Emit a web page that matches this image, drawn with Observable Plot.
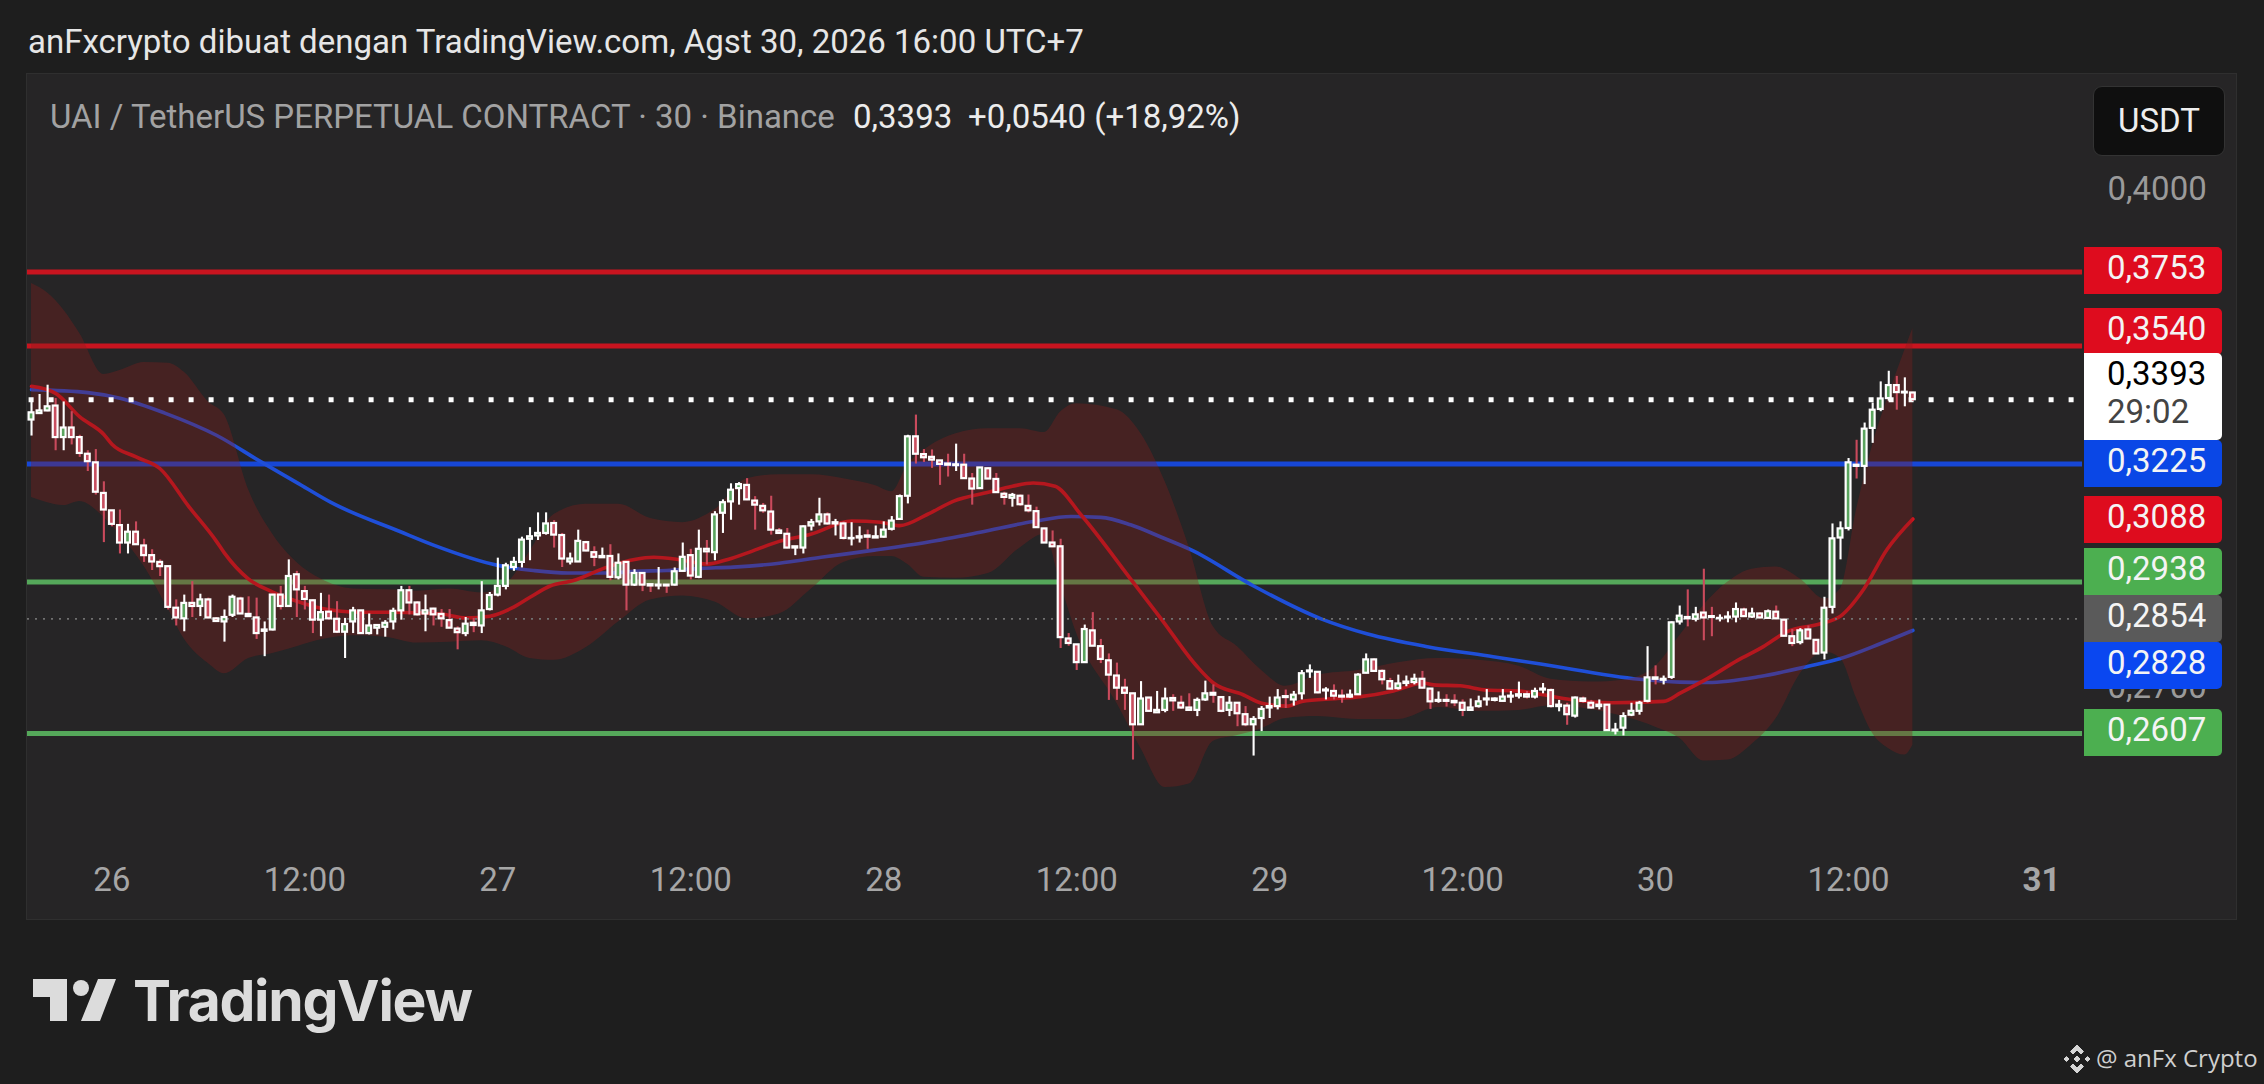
<!DOCTYPE html>
<html><head><meta charset="utf-8">
<script src="https://cdn.jsdelivr.net/npm/d3@7"></script>
<script src="https://cdn.jsdelivr.net/npm/@observablehq/plot@0.6"></script>
<style>
html,body{margin:0;padding:0;background:#1e1e1e;}
#page{position:relative;width:2264px;height:1084px;overflow:hidden;background:#1e1e1e;font-family:Roboto,sans-serif;}
.abs{position:absolute;white-space:nowrap;}
#panel{left:27px;top:74px;width:2209px;height:845px;background:#262526;outline:1px solid #2f2f2f;}
#chart{left:27px;top:74px;}
.badge{position:absolute;left:2084px;width:138px;font-size:33px;padding-left:23px;box-sizing:border-box;border-radius:0 5px 5px 0;color:#f4f4f4;}
</style></head><body>
<div id="page">
<div class="abs" style="left:28px;top:23px;font-size:33px;line-height:38px;color:#e6e6e6">anFxcrypto dibuat dengan TradingView.com, Agst 30, 2026 16:00 UTC+7</div>
<div class="abs" id="panel"></div>
<div class="abs" id="chart"></div>
<div class="abs" style="left:50px;top:98px;font-size:33px;line-height:38px;color:#a2a2a2">UAI / TetherUS PERPETUAL CONTRACT · 30 · Binance</div>
<div class="abs" style="left:853px;top:98px;font-size:33px;line-height:38px;color:#ececec">0,3393</div>
<div class="abs" style="left:968px;top:98px;font-size:33px;line-height:38px;color:#ececec">+0,0540 (+18,92%)</div>
<div class="abs" style="left:2093px;top:86px;width:130px;height:68px;line-height:68px;text-align:center;font-size:33px;color:#eee;background:#0f0f0f;border:1px solid #333;border-radius:9px">USDT</div>
<div id="badges"></div>
<svg class="abs" style="left:0;top:960px" width="140" height="80" viewBox="0 960 140 80">
<path fill="#dcdcdc" d="M33 979H67V1021H50V997H33Z M98 979H116L100 1021H81Z"/><circle fill="#dcdcdc" cx="81" cy="988" r="8"/>
</svg>
<div class="abs" style="left:133px;top:966px;font-family:Inter,Roboto,sans-serif;font-weight:700;font-size:57px;line-height:70px;letter-spacing:-1.3px;color:#dcdcdc">TradingView</div>
<svg class="abs" style="left:2062px;top:1044px" width="30" height="30" viewBox="0 0 30 30">
<path fill="#d6d6d6" stroke="#d6d6d6" stroke-width="1" d="M15 1l6.500 6.500-2.500 2.500L15 6 11 10 8.500 7.500z M15 29l-6.500-6.500 2.500-2.500L15 24l4-4 2.500 2.500z M4.500 12.500L7 15l-2.500 2.500L2 15z M25.500 12.500L28 15l-2.500 2.500L23 15z M15 12l3 3-3 3-3-3z"/>
</svg>
<div class="abs" style="left:2096px;top:1040px;font-family:'Open Sans',sans-serif;font-size:24px;line-height:36px;color:#cfcfcf">@ anFx Crypto</div>
</div>
<script>
const opens=[.3339,.3356,.3363,.3376,.3293,.3318,.3293,.3250,.3228,.3151,
.3108,.3072,.3030,.3056,.3023,.3000,.2984,.2974,.2878,.2854,
.2889,.2882,.2897,.2854,.2847,.2862,.2899,.2864,.2856,.2826,
.2829,.2908,.2882,.2955,.2916,.2895,.2851,.2869,.2853,.2824,
.2847,.2872,.2821,.2833,.2835,.2847,.2872,.2918,.2890,.2865,
.2876,.2864,.2850,.2831,.2821,.2844,.2838,.2875,.2908,.2928,
.2972,.2984,.3039,.3047,.3053,.3077,.3048,.2985,.2985,.3031,
.3007,.2995,.2998,.2948,.2984,.2931,.2958,.2932,.2929,.2931,
.2931,.2963,.3000,.2949,.3015,.3007,.3102,.3130,.3163,.3171,
.3132,.3119,.3105,.3059,.3051,.3018,.3018,.3071,.3081,.3098,
.3076,.3076,.3040,.3042,.3047,.3042,.3044,.3063,.3087,.3144,
.3295,.3249,.3242,.3233,.3225,.3221,.3222,.3187,.3163,.3213,
.3186,.3149,.3139,.3144,.3119,.3106,.3064,.3030,.3021,.2809,
.2796,.2757,.2827,.2792,.2761,.2728,.2702,.2690,.2625,.2681,
.2650,.2655,.2680,.2670,.2660,.2655,.2677,.2691,.2682,.2655,
.2670,.2646,.2625,.2638,.2660,.2663,.2684,.2677,.2690,.2737,
.2736,.2696,.2695,.2685,.2683,.2688,.2734,.2763,.2738,.2716,
.2701,.2712,.2714,.2721,.2700,.2674,.2676,.2674,.2670,.2655,
.2663,.2677,.2676,.2674,.2683,.2685,.2688,.2683,.2698,.2697,
.2663,.2664,.2643,.2679,.2670,.2663,.2666,.2612,.2618,.2645,
.2653,.2674,.2724,.2719,.2725,.2847,.2857,.2853,.2867,.2859,
.2854,.2856,.2858,.2874,.2858,.2865,.2855,.2869,.2851,.2814,
.2801,.2829,.2806,.2778,.2880,.3042,.3065,.3222,.3219,.3317,
.3367,.3396,.3431,.3411,.3411];
const closes=[.3358,.3363,.3374,.3293,.3318,.3293,.3252,.3231,.3154,.3110,
.3075,.3030,.3056,.3026,.3000,.2985,.2974,.2880,.2856,.2889,
.2882,.2897,.2856,.2848,.2857,.2903,.2865,.2859,.2821,.2829,
.2908,.2882,.2951,.2920,.2898,.2851,.2868,.2854,.2824,.2841,
.2872,.2821,.2838,.2839,.2844,.2871,.2918,.2890,.2863,.2872,
.2863,.2854,.2833,.2823,.2842,.2839,.2872,.2907,.2928,.2976,
.2984,.3037,.3045,.3053,.3076,.3049,.2992,.2992,.3034,.3011,
.2996,.2998,.2949,.2982,.2931,.2958,.2931,.2929,.2931,.2929,
.2962,.2996,.2952,.3015,.3009,.3098,.3128,.3159,.3173,.3135,
.3122,.3108,.3061,.3053,.3018,.3021,.3069,.3079,.3098,.3076,
.3079,.3041,.3041,.3045,.3044,.3045,.3061,.3083,.3143,.3295,
.3250,.3241,.3235,.3224,.3222,.3223,.3188,.3162,.3215,.3187,
.3153,.3141,.3146,.3123,.3108,.3067,.3030,.3021,.2812,.2799,
.2757,.2830,.2793,.2764,.2730,.2702,.2691,.2625,.2679,.2653,
.2655,.2679,.2675,.2660,.2655,.2676,.2690,.2687,.2653,.2670,
.2648,.2625,.2636,.2657,.2663,.2681,.2682,.2687,.2733,.2739,
.2692,.2698,.2685,.2683,.2687,.2730,.2763,.2738,.2720,.2700,
.2711,.2715,.2721,.2702,.2673,.2676,.2674,.2671,.2655,.2660,
.2673,.2679,.2679,.2683,.2685,.2688,.2683,.2695,.2700,.2663,
.2666,.2646,.2681,.2674,.2660,.2666,.2613,.2614,.2642,.2653,
.2670,.2724,.2721,.2721,.2845,.2860,.2854,.2863,.2856,.2857,
.2855,.2858,.2875,.2859,.2865,.2856,.2870,.2854,.2815,.2799,
.2827,.2809,.2776,.2878,.3040,.3064,.3228,.3219,.3315,.3365,
.3395,.3431,.3412,.3413,.3393];
const highs=[.3396,.3407,.3432,.3396,.3387,.3361,.3299,.3259,.3262,.3180,
.3108,.3110,.3075,.3081,.3039,.3014,.2990,.2974,.2897,.2908,
.2939,.2910,.2901,.2857,.2874,.2908,.2903,.2904,.2901,.2847,
.2908,.2928,.2990,.2963,.2928,.2897,.2912,.2908,.2893,.2855,
.2880,.2872,.2865,.2840,.2850,.2878,.2928,.2928,.2893,.2908,
.2878,.2875,.2875,.2836,.2857,.2855,.2939,.2914,.2994,.2982,
.2996,.3044,.3067,.3103,.3103,.3084,.3053,.3006,.3061,.3034,
.3021,.3018,.3026,.3004,.2984,.2967,.2959,.2932,.2972,.2931,
.2971,.3030,.3015,.3061,.3036,.3106,.3135,.3175,.3178,.3188,
.3143,.3126,.3144,.3065,.3065,.3021,.3071,.3087,.3139,.3103,
.3087,.3081,.3079,.3069,.3061,.3071,.3081,.3094,.3147,.3299,
.3352,.3262,.3261,.3233,.3250,.3276,.3250,.3201,.3216,.3215,
.3201,.3154,.3151,.3147,.3147,.3117,.3064,.3059,.3039,.2821,
.2796,.2840,.2868,.2808,.2776,.2756,.2721,.2691,.2716,.2682,
.2695,.2702,.2688,.2685,.2690,.2681,.2717,.2709,.2684,.2684,
.2671,.2663,.2642,.2663,.2683,.2699,.2698,.2695,.2740,.2752,
.2737,.2703,.2709,.2698,.2698,.2733,.2776,.2765,.2741,.2723,
.2730,.2728,.2732,.2738,.2701,.2694,.2688,.2688,.2677,.2679,
.2685,.2699,.2681,.2699,.2695,.2715,.2695,.2702,.2712,.2700,
.2676,.2670,.2683,.2683,.2676,.2677,.2667,.2628,.2650,.2670,
.2674,.2792,.2750,.2728,.2847,.2883,.2920,.2880,.2968,.2880,
.2863,.2870,.2890,.2878,.2878,.2868,.2874,.2883,.2853,.2830,
.2832,.2838,.2808,.2903,.3076,.3081,.3239,.3286,.3331,.3384,
.3441,.3470,.3456,.3452,.3413];
const lows=[.3297,.3356,.3361,.3259,.3259,.3274,.3242,.3206,.3147,.3031,
.3069,.3004,.3004,.3026,.2984,.2965,.2951,.2874,.2838,.2825,
.2857,.2859,.2854,.2847,.2802,.2857,.2864,.2857,.2808,.2770,
.2827,.2874,.2880,.2857,.2874,.2821,.2814,.2851,.2821,.2766,
.2821,.2820,.2818,.2818,.2813,.2829,.2851,.2863,.2860,.2825,
.2838,.2835,.2832,.2785,.2814,.2823,.2821,.2872,.2904,.2920,
.2963,.2971,.2988,.3036,.3049,.3018,.2972,.2978,.2984,.3009,
.2974,.2994,.2941,.2943,.2872,.2928,.2916,.2914,.2920,.2912,
.2929,.2962,.2943,.2946,.2978,.2988,.3053,.3085,.3122,.3133,
.3061,.3102,.3049,.3051,.3016,.3000,.3004,.3059,.3071,.3073,
.3047,.3037,.3023,.3030,.3015,.3042,.3042,.3059,.3085,.3125,
.3225,.3229,.3214,.3171,.3192,.3206,.3186,.3122,.3161,.3186,
.3151,.3122,.3117,.3119,.3103,.3065,.3029,.3019,.2788,.2793,
.2740,.2756,.2792,.2755,.2676,.2676,.2655,.2553,.2624,.2651,
.2650,.2650,.2653,.2657,.2654,.2642,.2674,.2670,.2650,.2642,
.2621,.2621,.2561,.2611,.2638,.2656,.2659,.2664,.2677,.2723,
.2690,.2677,.2677,.2670,.2681,.2687,.2733,.2736,.2709,.2698,
.2698,.2705,.2709,.2700,.2657,.2670,.2662,.2663,.2642,.2653,
.2660,.2664,.2673,.2673,.2670,.2679,.2679,.2679,.2690,.2660,
.2652,.2624,.2639,.2670,.2657,.2656,.2612,.2604,.2602,.2642,
.2645,.2671,.2709,.2709,.2721,.2840,.2836,.2847,.2805,.2814,
.2847,.2845,.2845,.2857,.2855,.2854,.2853,.2852,.2814,.2792,
.2796,.2808,.2775,.2763,.2865,.2990,.3059,.3187,.3173,.3278,
.3361,.3389,.3365,.3374,.3389];

const redMaBars=[1,4,7,10,11,14,17,20.5,24,25,28,31,34,37,42,46,52,55,58,60.7,63,65.5,68.3,72.6,76,78.4,81.4,85,87.6,90.8,94,97.9,103,106.6,109,112.4,115.7,120,123,125.6,128.3,131.5,138,141.5,146,148,151.7,154,157.2,159,163.4,166.3,170.4,174.1,175.4,178.7,182,186,189,192.4,197.4,204,206.1,209.5,213.2,216.4,219.3,223.5,226,228.9,231.8,235];
const redMaValues=[.3429,.3410,.3347,.3301,.3276,.3243,.3213,.3120,.3034,.3006,.2945,.2915,.2894,.2878,.2869,.2869,.2865,.2856,.2860,.2878,.2903,.2929,.2941,.2973,.2991,.2996,.2991,.2980,.2991,.3012,.3034,.3051,.3083,.3080,.3072,.3099,.3132,.3154,.3169,.3177,.3169,.3099,.2938,.2854,.2748,.2713,.2688,.2670,.2664,.2674,.2680,.2684,.2696,.2713,.2709,.2707,.2698,.2696,.2688,.2678,.2671,.2674,.2692,.2723,.2762,.2792,.2825,.2843,.2860,.2922,.3015,.3088];
const blueMaBars=[1,8,12,17.5,24,29.5,34,38.3,46.9,51,59,63.4,67.7,72.6,76,80,84.3,88.3,94,99.2,105.8,112.4,119,125.6,130.3,134,137.7,141.4,145.3,153,161.4,167.2,174.6,182.8,188.7,201,206,209.5,216,222,226,231,235];
const blueMaValues=[.3420,.3412,.3397,.3358,.3299,.3231,.3178,.3128,.3057,.3025,.2977,.2965,.2959,.2959,.2963,.2965,.2970,.2973,.2982,.2996,.3013,.3032,.3056,.3082,.3094,.3092,.3074,.3045,.3013,.2929,.2854,.2820,.2792,.2770,.2754,.2721,.2715,.2714,.2727,.2749,.2766,.2799,.2828];

const ribbonBars=[1,3,5,7,10,12,15,18,20,23,25,28,31,34,37,41,45,49,53,57,60,63,66,70,74,78,82,86,90,94,98,102,106,108,110,112,116,120,124,127,129,131,136,139,142,145,148,151,154,157,161,166,171,176,181,186,190,195,199,203,206,209,212,215,218,221,224,226,228,230,232,234,235];
const ribbonUpper=[.3719,.3691,.3642,.3575,.3461,.3472,.3494,.3492,.3467,.3387,.3352,.3160,.3051,.2984,.2945,.2922,.2920,.2917,.2922,.2913,.2933,.3010,.3099,.3124,.3124,.3089,.3079,.3111,.3188,.3198,.3198,.3188,.3170,.3155,.3223,.3260,.3303,.3316,.3316,.3306,.3360,.3382,.3366,.3303,.3180,.3019,.2836,.2792,.2740,.2706,.2730,.2740,.2757,.2766,.2762,.2749,.2721,.2715,.2719,.2749,.2816,.2885,.2938,.2968,.2973,.2945,.2899,.2922,.3111,.3274,.3405,.3528,.3589];
const ribbonLower=[.3141,.3128,.3121,.3131,.3092,.3049,.2975,.2876,.2809,.2755,.2733,.2766,.2777,.2792,.2807,.2816,.2813,.2800,.2802,.2805,.2792,.2766,.2762,.2790,.2847,.2897,.2906,.2892,.2854,.2865,.2922,.2984,.2998,.2998,.2979,.2949,.2947,.2958,.3019,.3051,.2933,.2821,.2670,.2576,.2498,.2505,.2591,.2603,.2617,.2638,.2642,.2636,.2636,.2661,.2653,.2655,.2665,.2657,.2642,.2620,.2597,.2551,.2553,.2585,.2638,.2733,.2781,.2766,.2680,.2607,.2576,.2563,.2583];

const levelPrices=[.3753,.3540,.3225,.2938,.2607];
const levelColors=["#c8141f","#c8141f","#1747d6","#55a85a","#55a85a"];
const lastPrice=.3393, prevClose=.2854;
const tickBars=[11,35,59,83,107,131,155,179,203,227];
const tickLabels=["26","12:00","27","12:00","28","12:00","29","12:00","30","12:00"];
const lastTickBar=251, lastTickLabel="31";
const priceTicks=[.4,.27];

const badgeLabels=["0,3753","0,3540","0,3225","0,3088","0,2938","0,2854","0,2828","0,2607"];
const badgeFills=["#de0c1e","#de0c1e","#0a47e6","#de0c1e","#4caf50","#5a5a5a","#0a47f0","#4caf50"];
const badgeTops=[247,308,440,496,548,595,642,709];

const bars=opens.map((o,k)=>({bar:k+1,open:o,close:closes[k],high:highs[k],low:lows[k],up:closes[k]>=o}));
const red=redMaBars.map((b,k)=>({bar:b,v:redMaValues[k]}));
const blue=blueMaBars.map((b,k)=>({bar:b,v:blueMaValues[k]}));
const ribbon=ribbonBars.map((b,k)=>({bar:b,hi:ribbonUpper[k],lo:ribbonLower[k]}));
const levels=levelPrices.map((v,k)=>({v,c:levelColors[k]}));
const barHalf=.30, lineEnd=256.1;

const chart=Plot.plot({
  width:2209,height:845,margin:0,
  style:{background:"transparent",fontFamily:"Roboto",fontSize:"33px",overflow:"visible"},
  x:{domain:[.5,275.25],range:[0,2209],axis:null},
  y:{type:"log",domain:[.2251,.4386],range:[845,0],axis:null},
  marks:[
    Plot.axisY({anchor:"right",ticks:priceTicks,tickSize:0,tickPadding:0,dx:-129,dy:-2,color:"#9a9a9a",label:null,tickFormat:d=>d3.format(".4f")(d).replace(".",",")}),
    Plot.axisX({anchor:"bottom",ticks:tickBars,tickSize:0,tickPadding:0,dy:-52,color:"#a6a6a6",label:null,tickFormat:d=>tickLabels[tickBars.indexOf(d)]}),
    Plot.axisX({anchor:"bottom",ticks:[lastTickBar],tickSize:0,tickPadding:0,dy:-52,color:"#a6a6a6",fontWeight:"bold",label:null,tickFormat:()=>lastTickLabel}),
    Plot.ruleY(levels,{y:"v",x1:.5,x2:lineEnd,stroke:"c",strokeWidth:5}),
    Plot.line(blue,{x:"bar",y:"v",stroke:"#1f4fd8",strokeWidth:3.6,curve:"monotone-x"}),
    Plot.line(red,{x:"bar",y:"v",stroke:"#d0141f",strokeWidth:3.6,curve:"monotone-x"}),
    Plot.area(ribbon,{x1:"bar",y1:"lo",y2:"hi",fill:"#851c1c",fillOpacity:.35,curve:"monotone-x"}),
    Plot.ruleY([prevClose],{x1:.5,x2:lineEnd,stroke:"#707070",strokeWidth:1.6,strokeDasharray:"2,6"}),
    Plot.ruleY([lastPrice],{x1:.7,x2:lineEnd,stroke:"#ffffff",strokeWidth:5,strokeDasharray:"5,15"}),
    Plot.ruleX(bars,{x:"bar",y1:"low",y2:"high",stroke:d=>d.up?"#ffffff":"#c94a5c",strokeWidth:2.1}),
    Plot.rect(bars,{x1:d=>d.bar-barHalf,x2:d=>d.bar+barHalf,y1:"open",y2:"close",fill:d=>d.up?"#5ba55f":"#c94f60",stroke:"#ffffff",strokeWidth:2.2})
  ]
});
document.getElementById("chart").appendChild(chart);

const host=document.getElementById("badges");
badgeLabels.forEach((t,k)=>{
  const d=document.createElement("div");
  d.className="badge";
  d.textContent=t;
  d.style.cssText=`top:${badgeTops[k]}px;height:47px;line-height:41px;background:${badgeFills[k]}`;
  host.appendChild(d);
});
const last=document.createElement("div");
last.className="badge";
last.style.cssText="top:353px;height:87px;background:#fff;color:#000;line-height:38px;padding-top:2px";
last.innerHTML='0,3393<br><span style="color:#444">29:02</span>';
host.appendChild(last);
</script>
</body></html>
